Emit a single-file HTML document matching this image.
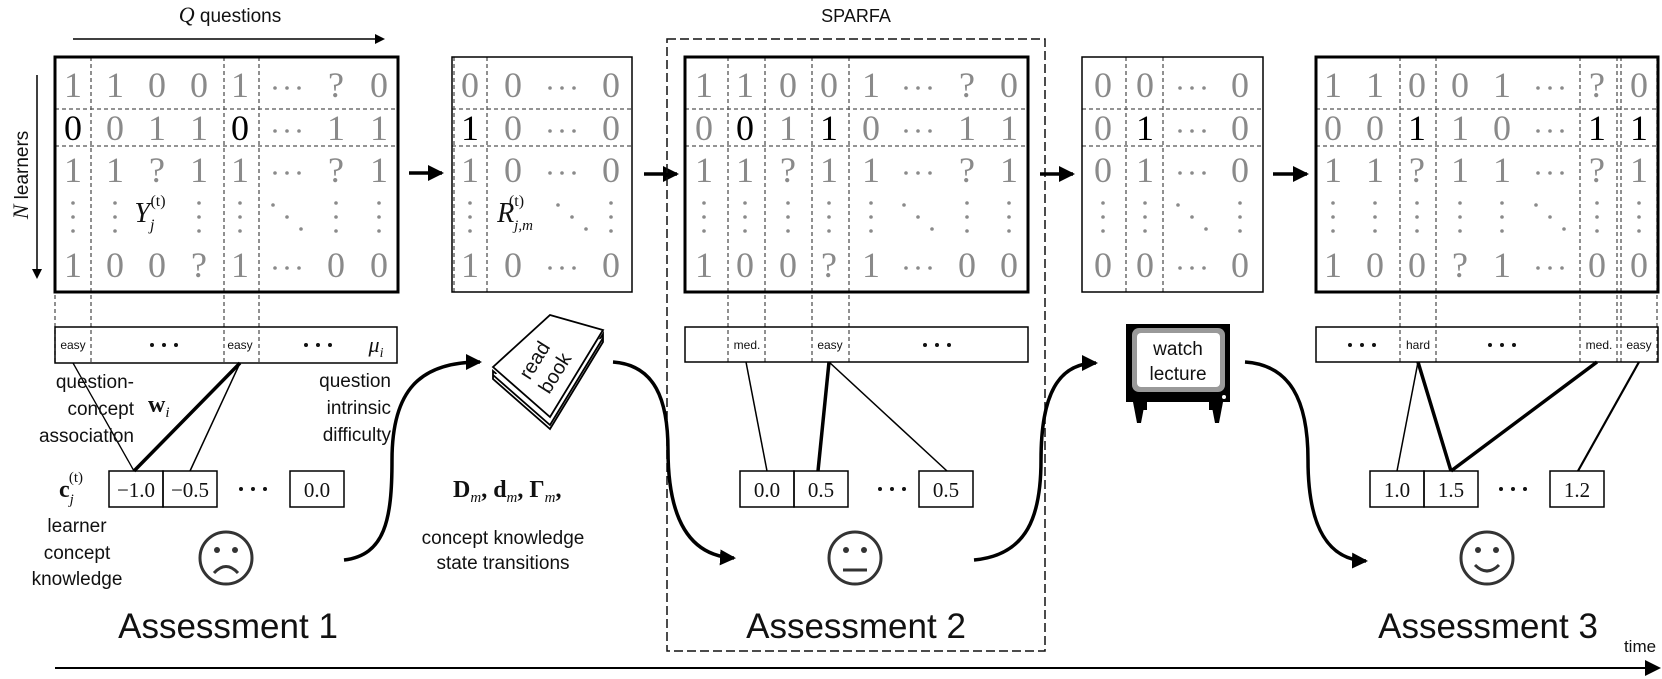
<!DOCTYPE html>
<html><head><meta charset="utf-8"><style>
html,body{margin:0;padding:0;background:#fff;}
svg{display:block;}
.m{font-family:"Liberation Serif",serif;font-size:36px;fill:#8a8a8a;text-anchor:middle;}
.b{fill:#000;}
.s{font-family:"Liberation Sans",sans-serif;fill:#111;}
.sm{font-family:"Liberation Sans",sans-serif;font-size:12px;fill:#111;text-anchor:middle;}
.bx{font-family:"Liberation Serif",serif;font-size:21px;fill:#111;text-anchor:middle;}
.dl{stroke:#555;stroke-width:1.3;stroke-dasharray:4,3;fill:none;}
</style></head><body>
<svg width="1662" height="679" viewBox="0 0 1662 679" xmlns="http://www.w3.org/2000/svg">
<defs>
<marker id="ah" markerWidth="10" markerHeight="10" refX="8" refY="5" orient="auto" markerUnits="userSpaceOnUse">
<path d="M0,0 L10,5 L0,10 z" fill="#000"/></marker>
<marker id="ah2" markerWidth="16" markerHeight="16" refX="14" refY="8" orient="auto" markerUnits="userSpaceOnUse">
<path d="M0,0 L16,8 L0,16 z" fill="#000"/></marker>
<g id="vd"><circle cx="0" cy="-14" r="1.8" fill="#8a8a8a"/><circle cx="0" cy="0" r="1.8" fill="#8a8a8a"/><circle cx="0" cy="14" r="1.8" fill="#8a8a8a"/></g>
<g id="hd"><circle cx="-12" cy="0" r="1.8" fill="#8a8a8a"/><circle cx="0" cy="0" r="1.8" fill="#8a8a8a"/><circle cx="12" cy="0" r="1.8" fill="#8a8a8a"/></g>
<g id="dd"><circle cx="-14" cy="-12" r="1.8" fill="#8a8a8a"/><circle cx="0" cy="0" r="1.8" fill="#8a8a8a"/><circle cx="14" cy="12" r="1.8" fill="#8a8a8a"/></g>
<g id="bd"><circle cx="-12" cy="0" r="2" fill="#111"/><circle cx="0" cy="0" r="2" fill="#111"/><circle cx="12" cy="0" r="2" fill="#111"/></g>
</defs>

<text x="230" y="22" class="s" font-size="19" text-anchor="middle"><tspan font-family="Liberation Serif" font-style="italic" font-size="22">Q</tspan> questions</text>
<line x1="73" y1="39" x2="383" y2="39" stroke="#000" stroke-width="1.5" marker-end="url(#ah)"/>
<text transform="translate(28,175) rotate(-90)" class="s" font-size="19" text-anchor="middle"><tspan font-family="Liberation Serif" font-style="italic" font-size="22">N</tspan> learners</text>
<line x1="37" y1="75" x2="37" y2="277" stroke="#000" stroke-width="1.5" marker-end="url(#ah)"/>

<g>
<line class="dl" x1="55" y1="57" x2="55" y2="363"/>
<line class="dl" x1="91" y1="57" x2="91" y2="363"/>
<line class="dl" x1="224" y1="57" x2="224" y2="363"/>
<line class="dl" x1="259" y1="57" x2="259" y2="363"/>
<line class="dl" x1="55" y1="109" x2="398" y2="109"/>
<line class="dl" x1="55" y1="146" x2="398" y2="146"/>
<rect x="55" y="57" width="343" height="235" fill="none" stroke="#000" stroke-width="3"/>
<text class="m" y="97"><tspan x="73">1</tspan><tspan x="115">1</tspan><tspan x="157">0</tspan><tspan x="199">0</tspan><tspan x="240">1</tspan><tspan x="336">?</tspan><tspan x="379">0</tspan></text>
<use href="#hd" x="287" y="88"/>
<text class="m" y="140"><tspan x="73" class="b">0</tspan><tspan x="115">0</tspan><tspan x="157">1</tspan><tspan x="199">1</tspan><tspan x="240" class="b">0</tspan><tspan x="336">1</tspan><tspan x="379">1</tspan></text>
<use href="#hd" x="287" y="131"/>
<text class="m" y="182"><tspan x="73">1</tspan><tspan x="115">1</tspan><tspan x="157">?</tspan><tspan x="199">1</tspan><tspan x="240">1</tspan><tspan x="336">?</tspan><tspan x="379">1</tspan></text>
<use href="#hd" x="287" y="173"/>
<use href="#vd" x="73" y="217"/><use href="#vd" x="115" y="217"/><use href="#vd" x="199" y="217"/><use href="#vd" x="240" y="217"/><use href="#dd" x="287" y="217"/><use href="#vd" x="336" y="217"/><use href="#vd" x="379" y="217"/>
<text x="150" y="222" font-family="Liberation Serif" font-style="italic" font-size="28" fill="#111" text-anchor="middle">Y<tspan font-size="16" dy="8">j</tspan><tspan font-size="16" font-style="normal" dx="-4" dy="-24">(t)</tspan></text>
<text class="m" y="277"><tspan x="73">1</tspan><tspan x="115">0</tspan><tspan x="157">0</tspan><tspan x="199">?</tspan><tspan x="240">1</tspan><tspan x="336">0</tspan><tspan x="379">0</tspan></text>
<use href="#hd" x="287" y="268"/>
</g>
<line x1="409" y1="173" x2="442" y2="173" stroke="#000" stroke-width="3.5" marker-end="url(#ah2)"/>

<g>
<line class="dl" x1="454" y1="57" x2="454" y2="292"/>
<line class="dl" x1="487" y1="57" x2="487" y2="292"/>
<line class="dl" x1="452" y1="109" x2="632" y2="109"/>
<line class="dl" x1="452" y1="146" x2="632" y2="146"/>
<rect x="452" y="57" width="180" height="235" fill="none" stroke="#000" stroke-width="1.5"/>
<text class="m" y="97"><tspan x="470">0</tspan><tspan x="513">0</tspan><tspan x="611">0</tspan></text><use href="#hd" x="562" y="88"/>
<text class="m" y="140"><tspan x="470" class="b">1</tspan><tspan x="513">0</tspan><tspan x="611">0</tspan></text><use href="#hd" x="562" y="131"/>
<text class="m" y="182"><tspan x="470">1</tspan><tspan x="513">0</tspan><tspan x="611">0</tspan></text><use href="#hd" x="562" y="173"/>
<use href="#vd" x="470" y="217"/><use href="#dd" x="572" y="217"/><use href="#vd" x="611" y="217"/>
<text x="515" y="222" font-family="Liberation Serif" font-style="italic" font-size="28" fill="#111" text-anchor="middle">R<tspan font-size="15" dy="8">j,m</tspan><tspan font-size="16" font-style="normal" dx="-24" dy="-24">(t)</tspan></text>
<text class="m" y="277"><tspan x="470">1</tspan><tspan x="513">0</tspan><tspan x="611">0</tspan></text><use href="#hd" x="562" y="268"/>
</g>
<line x1="644" y1="174" x2="677" y2="174" stroke="#000" stroke-width="3.5" marker-end="url(#ah2)"/>

<text x="856" y="22" class="s" font-size="18" text-anchor="middle">SPARFA</text>
<rect x="667" y="39" width="378" height="612" fill="none" stroke="#111" stroke-width="1.5" stroke-dasharray="9,4"/>

<g>
<line class="dl" x1="728" y1="57" x2="728" y2="362"/>
<line class="dl" x1="765" y1="57" x2="765" y2="362"/>
<line class="dl" x1="812" y1="57" x2="812" y2="362"/>
<line class="dl" x1="849" y1="57" x2="849" y2="362"/>
<line class="dl" x1="685" y1="109" x2="1028" y2="109"/>
<line class="dl" x1="685" y1="146" x2="1028" y2="146"/>
<rect x="685" y="57" width="343" height="235" fill="none" stroke="#000" stroke-width="3"/>
<text class="m" y="97"><tspan x="704">1</tspan><tspan x="745">1</tspan><tspan x="788">0</tspan><tspan x="829">0</tspan><tspan x="871">1</tspan><tspan x="967">?</tspan><tspan x="1009">0</tspan></text><use href="#hd" x="918" y="88"/>
<text class="m" y="140"><tspan x="704">0</tspan><tspan x="745" class="b">0</tspan><tspan x="788">1</tspan><tspan x="829" class="b">1</tspan><tspan x="871">0</tspan><tspan x="967">1</tspan><tspan x="1009">1</tspan></text><use href="#hd" x="918" y="131"/>
<text class="m" y="182"><tspan x="704">1</tspan><tspan x="745">1</tspan><tspan x="788">?</tspan><tspan x="829">1</tspan><tspan x="871">1</tspan><tspan x="967">?</tspan><tspan x="1009">1</tspan></text><use href="#hd" x="918" y="173"/>
<use href="#vd" x="704" y="217"/><use href="#vd" x="745" y="217"/><use href="#vd" x="788" y="217"/><use href="#vd" x="829" y="217"/><use href="#vd" x="871" y="217"/><use href="#dd" x="918" y="217"/><use href="#vd" x="967" y="217"/><use href="#vd" x="1009" y="217"/>
<text class="m" y="277"><tspan x="704">1</tspan><tspan x="745">0</tspan><tspan x="788">0</tspan><tspan x="829">?</tspan><tspan x="871">1</tspan><tspan x="967">0</tspan><tspan x="1009">0</tspan></text><use href="#hd" x="918" y="268"/>
</g>
<line x1="1040" y1="174" x2="1073" y2="174" stroke="#000" stroke-width="3.5" marker-end="url(#ah2)"/>

<g>
<line class="dl" x1="1126" y1="57" x2="1126" y2="292"/>
<line class="dl" x1="1163" y1="57" x2="1163" y2="292"/>
<line class="dl" x1="1082" y1="109" x2="1263" y2="109"/>
<line class="dl" x1="1082" y1="146" x2="1263" y2="146"/>
<rect x="1082" y="57" width="181" height="235" fill="none" stroke="#000" stroke-width="1.5"/>
<text class="m" y="97"><tspan x="1103">0</tspan><tspan x="1145">0</tspan><tspan x="1240">0</tspan></text><use href="#hd" x="1192" y="88"/>
<text class="m" y="140"><tspan x="1103">0</tspan><tspan x="1145" class="b">1</tspan><tspan x="1240">0</tspan></text><use href="#hd" x="1192" y="131"/>
<text class="m" y="182"><tspan x="1103">0</tspan><tspan x="1145">1</tspan><tspan x="1240">0</tspan></text><use href="#hd" x="1192" y="173"/>
<use href="#vd" x="1103" y="217"/><use href="#vd" x="1145" y="217"/><use href="#dd" x="1192" y="217"/><use href="#vd" x="1240" y="217"/>
<text class="m" y="277"><tspan x="1103">0</tspan><tspan x="1145">0</tspan><tspan x="1240">0</tspan></text><use href="#hd" x="1192" y="268"/>
</g>
<line x1="1273" y1="174" x2="1307" y2="174" stroke="#000" stroke-width="3.5" marker-end="url(#ah2)"/>

<g>
<line class="dl" x1="1400" y1="57" x2="1400" y2="362"/>
<line class="dl" x1="1436" y1="57" x2="1436" y2="362"/>
<line class="dl" x1="1580" y1="57" x2="1580" y2="362"/>
<line class="dl" x1="1617" y1="57" x2="1617" y2="362"/>
<line class="dl" x1="1621" y1="57" x2="1621" y2="362"/>
<line class="dl" x1="1657" y1="57" x2="1657" y2="362"/>
<line class="dl" x1="1316" y1="109" x2="1658" y2="109"/>
<line class="dl" x1="1316" y1="146" x2="1658" y2="146"/>
<rect x="1316" y="57" width="342" height="235" fill="none" stroke="#000" stroke-width="3"/>
<text class="m" y="97"><tspan x="1333">1</tspan><tspan x="1375">1</tspan><tspan x="1417">0</tspan><tspan x="1460">0</tspan><tspan x="1502">1</tspan><tspan x="1597">?</tspan><tspan x="1639">0</tspan></text><use href="#hd" x="1550" y="88"/>
<text class="m" y="140"><tspan x="1333">0</tspan><tspan x="1375">0</tspan><tspan x="1417" class="b">1</tspan><tspan x="1460">1</tspan><tspan x="1502">0</tspan><tspan x="1597" class="b">1</tspan><tspan x="1639" class="b">1</tspan></text><use href="#hd" x="1550" y="131"/>
<text class="m" y="182"><tspan x="1333">1</tspan><tspan x="1375">1</tspan><tspan x="1417">?</tspan><tspan x="1460">1</tspan><tspan x="1502">1</tspan><tspan x="1597">?</tspan><tspan x="1639">1</tspan></text><use href="#hd" x="1550" y="173"/>
<use href="#vd" x="1333" y="217"/><use href="#vd" x="1375" y="217"/><use href="#vd" x="1417" y="217"/><use href="#vd" x="1460" y="217"/><use href="#vd" x="1502" y="217"/><use href="#dd" x="1550" y="217"/><use href="#vd" x="1597" y="217"/><use href="#vd" x="1639" y="217"/>
<text class="m" y="277"><tspan x="1333">1</tspan><tspan x="1375">0</tspan><tspan x="1417">0</tspan><tspan x="1460">?</tspan><tspan x="1502">1</tspan><tspan x="1597">0</tspan><tspan x="1639">0</tspan></text><use href="#hd" x="1550" y="268"/>
</g>

<rect x="55" y="327" width="342" height="36" fill="none" stroke="#000" stroke-width="1.5"/>
<text class="sm" x="73" y="349">easy</text><text class="sm" x="240" y="349">easy</text>
<use href="#bd" x="164" y="345"/><use href="#bd" x="318" y="345"/>
<text x="376" y="352" font-family="Liberation Serif" font-style="italic" font-size="22" fill="#111" text-anchor="middle">μ<tspan font-size="14" dy="5">i</tspan></text>

<rect x="685" y="327" width="343" height="35" fill="none" stroke="#000" stroke-width="1.5"/>
<text class="sm" x="747" y="349">med.</text><text class="sm" x="830" y="349">easy</text>
<use href="#bd" x="937" y="345"/>

<rect x="1316" y="327" width="342" height="35" fill="none" stroke="#000" stroke-width="1.5"/>
<text class="sm" x="1418" y="349">hard</text><text class="sm" x="1599" y="349">med.</text><text class="sm" x="1639" y="349">easy</text>
<use href="#bd" x="1362" y="345"/><use href="#bd" x="1502" y="345"/>

<line x1="73" y1="363" x2="134" y2="471" stroke="#000" stroke-width="1.3"/>
<line x1="240" y1="363" x2="134" y2="471" stroke="#000" stroke-width="3.5"/>
<line x1="240" y1="363" x2="190" y2="471" stroke="#000" stroke-width="1.5"/>
<line x1="746" y1="362" x2="767" y2="471" stroke="#000" stroke-width="1.5"/>
<line x1="829" y1="362" x2="818" y2="471" stroke="#000" stroke-width="3.5"/>
<line x1="829" y1="362" x2="947" y2="471" stroke="#000" stroke-width="1.5"/>
<line x1="1418" y1="362" x2="1397" y2="471" stroke="#000" stroke-width="1.5"/>
<line x1="1418" y1="362" x2="1451" y2="471" stroke="#000" stroke-width="3.5"/>
<line x1="1597" y1="362" x2="1451" y2="471" stroke="#000" stroke-width="3.5"/>
<line x1="1639" y1="362" x2="1578" y2="471" stroke="#000" stroke-width="2.2"/>

<g class="s" font-size="19" text-anchor="end">
<text x="134" y="388">question-</text><text x="134" y="415">concept</text><text x="134" y="442">association</text>
<text x="391" y="387">question</text><text x="391" y="414">intrinsic</text><text x="391" y="441">difficulty</text>
</g>
<text x="148" y="412" font-family="Liberation Serif" font-weight="bold" font-size="24" fill="#111">w<tspan font-weight="normal" font-style="italic" font-size="15" dy="5">i</tspan></text>
<g class="s" font-size="19" text-anchor="middle">
<text x="77" y="532">learner</text><text x="77" y="559">concept</text><text x="77" y="585">knowledge</text>
<text x="503" y="544">concept knowledge</text><text x="503" y="569">state transitions</text>
</g>
<text x="59" y="497" font-family="Liberation Serif" font-weight="bold" font-size="24" fill="#111">c<tspan font-weight="normal" font-style="italic" font-size="15" dy="7">j</tspan><tspan font-weight="normal" font-size="15" dx="-5" dy="-22">(t)</tspan></text>
<text x="453" y="497" font-family="Liberation Serif" font-weight="bold" font-size="24" fill="#111">D<tspan font-weight="normal" font-style="italic" font-size="15" dy="5">m</tspan><tspan dy="-5">, d</tspan><tspan font-weight="normal" font-style="italic" font-size="15" dy="5">m</tspan><tspan dy="-5">, Γ</tspan><tspan font-weight="normal" font-style="italic" font-size="15" dy="5">m</tspan><tspan dy="-5">,</tspan></text>

<g fill="none" stroke="#000" stroke-width="1.5">
<rect x="109" y="471" width="54" height="36"/><rect x="163" y="471" width="54" height="36"/><rect x="290" y="471" width="54" height="36"/>
<rect x="740" y="471" width="54" height="36"/><rect x="794" y="471" width="54" height="36"/><rect x="919" y="471" width="54" height="36"/>
<rect x="1370" y="471" width="54" height="36"/><rect x="1424" y="471" width="54" height="36"/><rect x="1550" y="471" width="54" height="36"/>
</g>
<g class="bx">
<text x="136" y="497">−1.0</text><text x="190" y="497">−0.5</text><text x="317" y="497">0.0</text>
<text x="767" y="497">0.0</text><text x="821" y="497">0.5</text><text x="946" y="497">0.5</text>
<text x="1397" y="497">1.0</text><text x="1451" y="497">1.5</text><text x="1577" y="497">1.2</text>
</g>
<use href="#bd" x="253" y="489"/><use href="#bd" x="892" y="489"/><use href="#bd" x="1513" y="489"/>

<g fill="none" stroke="#333" stroke-width="3">
<circle cx="226" cy="558" r="26"/><path d="M214,573 Q226,560 238,573"/>
<circle cx="855" cy="558" r="26"/><line x1="843" y1="570" x2="867" y2="570"/>
<circle cx="1487" cy="558" r="26"/><path d="M1475,565 Q1487,577 1499,565"/>
</g>
<g fill="#333">
<circle cx="217" cy="550" r="3"/><circle cx="235" cy="550" r="3"/>
<circle cx="846" cy="550" r="3"/><circle cx="864" cy="550" r="3"/>
<circle cx="1478" cy="550" r="3"/><circle cx="1496" cy="550" r="3"/>
</g>

<g fill="none" stroke="#000" stroke-width="3.5">
<path d="M344,560 C385,555 392,520 392,460 C392,390 420,362 480,362" marker-end="url(#ah2)"/>
<path d="M613,362 C655,365 668,400 668,450 C668,520 690,556 734,558" marker-end="url(#ah2)"/>
<path d="M974,560 C1028,555 1041,515 1041,460 C1041,395 1058,363 1096,363" marker-end="url(#ah2)"/>
<path d="M1245,362 C1290,365 1308,400 1308,460 C1308,530 1330,560 1366,561" marker-end="url(#ah2)"/>
</g>

<g stroke="#000" stroke-width="1.8" fill="#fff">
<path d="M493,379 L550,429 L603,342 L603,334 L550,421 L493,371 z"/>
<path d="M493,375 L550,425 L603,338"/>
<path d="M493,367 L550,315 L603,330 L550,417 z"/>
</g>
<text transform="translate(547,368) rotate(-58)" class="s" font-size="20" text-anchor="middle"><tspan x="0" y="-8">read</tspan><tspan x="0" y="16">book</tspan></text>

<rect x="1126" y="324" width="104" height="78" fill="#000"/>
<rect x="1132" y="328" width="93" height="64" rx="7" fill="#999"/>
<rect x="1137" y="333" width="83" height="54" rx="4" fill="#fff"/>
<circle cx="1224" cy="397" r="2" fill="#fff"/>
<path d="M1133,402 L1145,402 L1141,423 L1137,423 z" fill="#000"/>
<path d="M1211,402 L1223,402 L1219,423 L1215,423 z" fill="#000"/>
<rect x="1143" y="402" width="4" height="8" fill="#000"/><rect x="1209" y="402" width="4" height="8" fill="#000"/>
<text x="1178" y="355" class="s" font-size="19" text-anchor="middle">watch</text>
<text x="1178" y="380" class="s" font-size="19" text-anchor="middle">lecture</text>

<g class="s" font-size="35" text-anchor="middle">
<text x="228" y="638">Assessment 1</text>
<text x="856" y="638">Assessment 2</text>
<text x="1488" y="638">Assessment 3</text>
</g>
<text x="1640" y="652" class="s" font-size="17" text-anchor="middle">time</text>
<line x1="55" y1="668" x2="1659" y2="668" stroke="#000" stroke-width="2" marker-end="url(#ah2)"/>
</svg>
</body></html>
